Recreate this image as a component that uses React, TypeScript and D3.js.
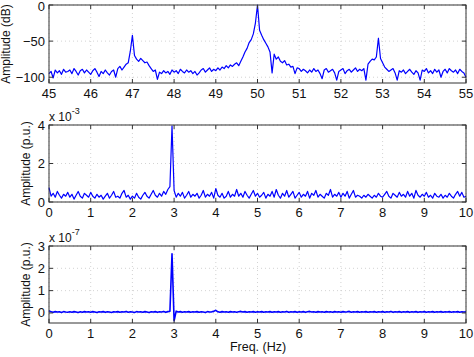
import React from "react";
import * as d3 from "d3";

// Panel 1: spectrum around 50 Hz, 45..55 Hz step 0.05 (dB)
const p1Start = 45;
const p1Step = 0.05;
const p1Values = [
  -95,-92,-101,-90,-94,-91,-96,-89,-93,-92,
  -90,-95,-88,-92,-97,-91,-89,-94,-90,-93,
  -96,-91,-88,-93,-99,-92,-95,-90,-94,-97,
  -92,-90,-100,-88,-85,-90,-86,-82,-80,-64,
  -42,-70,-75,-78,-74,-77,-80,-79,-84,-88,
  -92,-90,-103,-93,-95,-91,-94,-92,-96,-90,
  -93,-91,-95,-89,-92,-94,-90,-93,-91,-95,
  -92,-97,-94,-90,-88,-93,-90,-87,-92,-89,
  -91,-87,-90,-86,-88,-84,-87,-83,-85,-82,
  -80,-84,-78,-72,-65,-60,-52,-48,-40,-25,
  0,-35,-42,-48,-53,-58,-65,-94,-68,-75,
  -72,-78,-80,-77,-83,-82,-86,-85,-95,-87,
  -88,-92,-89,-91,-94,-90,-93,-88,-92,-90,
  -95,-102,-90,-88,-93,-91,-89,-94,-104,-92,
  -90,-88,-95,-91,-89,-93,-90,-87,-92,-89,
  -91,-88,-104,-82,-78,-75,-76,-72,-46,-74,
  -80,-86,-89,-92,-90,-88,-94,-104,-91,-93,
  -90,-95,-92,-89,-93,-96,-91,-94,-104,-90,
  -92,-88,-94,-91,-95,-89,-93,-90,-100,-92,
  -89,-94,-88,-91,-93,-90,-95,-89,-92,-94,
  -100,
];
const p1XTicks = [45, 46, 47, 48, 49, 50, 51, 52, 53, 54, 55];
const p1YTicks = [-100, -50, 0];

// Panel 2: 0..10 Hz step 0.05, values x 1e-3
const p2Start = 0;
const p2Step = 0.05;
const p2Values = [
  0.75,0.30,0.45,0.25,0.55,0.35,0.20,0.40,0.30,0.50,
  0.25,0.40,0.15,0.35,0.55,0.30,0.20,0.45,0.35,0.25,
  0.50,0.30,0.20,0.40,0.25,0.35,0.15,0.30,0.45,0.20,
  0.35,0.55,0.25,0.30,0.20,0.45,0.60,0.25,0.35,0.15,
  0.30,0.20,0.45,0.25,0.15,0.35,0.50,0.30,0.20,0.40,
  0.60,0.35,0.25,0.45,0.30,0.55,0.40,0.65,0.80,3.95,
  0.60,0.25,0.45,0.30,0.50,0.20,0.35,0.55,0.25,0.40,
  0.30,0.45,0.20,0.35,0.60,0.25,0.40,0.30,0.50,0.20,
  0.70,0.35,0.25,0.45,0.20,0.30,0.55,0.25,0.40,0.30,
  0.65,0.30,0.45,0.25,0.55,0.35,0.20,0.40,0.60,0.30,
  0.45,0.25,0.35,0.50,0.20,0.40,0.30,0.55,0.25,0.65,
  0.35,0.20,0.45,0.30,0.60,0.25,0.40,0.55,0.20,0.35,
  0.50,0.25,0.40,0.30,0.55,0.20,0.45,0.35,0.60,0.25,
  0.40,0.30,0.20,0.45,0.35,0.65,0.25,0.40,0.30,0.50,
  0.25,0.45,0.30,0.55,0.20,0.40,0.60,0.25,0.35,0.30,
  0.20,0.35,0.25,0.40,0.30,0.20,0.35,0.25,0.45,0.30,
  0.25,0.40,0.55,0.30,0.20,0.45,0.35,0.25,0.50,0.30,
  0.40,0.25,0.55,0.30,0.45,0.20,0.60,0.35,0.25,0.40,
  0.30,0.50,0.25,0.35,0.20,0.45,0.30,0.25,0.40,0.20,
  0.35,0.25,0.45,0.30,0.20,0.40,0.55,0.30,0.50,0.25,
  0.30,
];
const p2YTicks = [0, 2, 4];

// Panel 3: 0..10 Hz step 0.05, values x 1e-7
const p3Start = 0;
const p3Step = 0.05;
const p3Values = [
  0.10,0.05,0.03,0.06,0.04,0.05,0.02,0.06,0.04,0.03,
  0.05,0.03,0.06,0.04,0.02,0.05,0.03,0.06,0.04,0.05,
  0.03,0.06,0.04,0.02,0.05,0.04,0.06,0.03,0.05,0.04,
  0.02,0.05,0.04,0.06,0.03,0.05,0.04,0.07,0.03,0.05,
  0.04,0.02,0.06,0.04,0.05,0.03,0.06,0.04,0.02,0.05,
  0.04,0.06,0.03,0.05,0.04,0.07,0.03,0.06,0.08,2.65,
  -0.35,0.08,0.04,0.06,0.03,0.05,0.04,0.06,0.03,0.05,
  0.04,0.06,0.03,0.05,0.04,0.02,0.06,0.04,0.05,0.07,
  0.12,0.05,0.03,0.06,0.04,0.05,0.03,0.06,0.04,0.05,
  0.03,0.05,0.07,0.04,0.06,0.03,0.05,0.04,0.06,0.03,
  0.05,0.04,0.06,0.03,0.05,0.04,0.06,0.03,0.05,0.04,
  0.06,0.03,0.05,0.04,0.07,0.03,0.05,0.04,0.06,0.03,
  0.05,0.04,0.06,0.03,0.05,0.07,0.04,0.05,0.03,0.06,
  0.04,0.05,0.03,0.06,0.04,0.05,0.03,0.06,0.04,0.05,
  0.03,0.06,0.04,0.05,0.07,0.03,0.05,0.04,0.06,0.03,
  0.05,0.04,0.06,0.03,0.05,0.04,0.06,0.03,0.05,0.04,
  0.06,0.03,0.05,0.04,0.07,0.03,0.05,0.04,0.06,0.03,
  0.05,0.04,0.06,0.03,0.05,0.04,0.06,0.03,0.05,0.04,
  0.06,0.03,0.05,0.04,0.06,0.03,0.05,0.04,0.06,0.03,
  0.05,0.04,0.06,0.03,0.05,0.04,0.06,0.03,0.05,0.04,
  0.05,
];
const p3YTicks = [0, 1, 2, 3];
const lowXTicks = [0, 1, 2, 3, 4, 5, 6, 7, 8, 9, 10];

const FONT = "'Liberation Sans', Arial, sans-serif";
const TXT = "#111";

type PanelProps = {
  top: number;
  bottom: number;
  xDomain: [number, number];
  yDomain: [number, number];
  xTicks: number[];
  yTicks: number[];
  start: number;
  step: number;
  values: number[];
  ylabel: string;
  ylabelX: number;
  exponent?: string;
  strokeWidth: number;
};

const LEFT = 49;
const RIGHT = 466;

function Panel(p: PanelProps) {
  const x = d3.scaleLinear().domain(p.xDomain).range([LEFT, RIGHT]);
  const y = d3.scaleLinear().domain(p.yDomain).range([p.bottom, p.top]);
  const line = d3
    .line<number>()
    .x((_, i) => x(p.start + i * p.step))
    .y((d) => y(d));
  const tl = 4;
  const axisColor = "#333";
  const cy = (p.top + p.bottom) / 2;
  return (
    <g>
      {p.xTicks.map((t) => (
        <line key={"gx" + t} x1={x(t)} x2={x(t)} y1={p.top} y2={p.bottom}
          stroke="#c8c8c8" strokeWidth={0.8} strokeDasharray="1,3" />
      ))}
      {p.yTicks.map((t) => (
        <line key={"gy" + t} x1={LEFT} x2={RIGHT} y1={y(t)} y2={y(t)}
          stroke="#c8c8c8" strokeWidth={0.8} strokeDasharray="1,3" />
      ))}
      <path d={line(p.values) || ""} fill="none" stroke="#0000ff"
        strokeWidth={p.strokeWidth} strokeLinejoin="round" />
      <rect x={LEFT} y={p.top} width={RIGHT - LEFT} height={p.bottom - p.top}
        fill="none" stroke={axisColor} strokeWidth={1} />
      {p.xTicks.map((t) => (
        <g key={"tx" + t}>
          <line x1={x(t)} x2={x(t)} y1={p.bottom} y2={p.bottom - tl} stroke={axisColor} />
          <line x1={x(t)} x2={x(t)} y1={p.top} y2={p.top + tl} stroke={axisColor} />
          <text x={x(t)} y={p.bottom + 15} textAnchor="middle" fontSize={13}
            fontFamily={FONT} fill={TXT}>{t}</text>
        </g>
      ))}
      {p.yTicks.map((t) => (
        <g key={"ty" + t}>
          <line x1={LEFT} x2={LEFT + tl} y1={y(t)} y2={y(t)} stroke={axisColor} />
          <line x1={RIGHT} x2={RIGHT - tl} y1={y(t)} y2={y(t)} stroke={axisColor} />
          <text x={LEFT - 4} y={Math.max(y(t) + 4.5, 11)} textAnchor="end" fontSize={13}
            fontFamily={FONT} fill={TXT}>{t < 0 ? "\u2212" + Math.abs(t) : t}</text>
        </g>
      ))}
      <text transform={`translate(${p.ylabelX},${cy}) rotate(-90)`} textAnchor="middle"
        fontSize={12} fontFamily={FONT} fill={TXT}>{p.ylabel}</text>
      {p.exponent && (
        <text x={LEFT} y={p.top - 4} fontSize={12} fontFamily={FONT} fill={TXT}>
          x 10
          <tspan dy={-7} fontSize={9}>{p.exponent}</tspan>
        </text>
      )}
    </g>
  );
}

export default function App() {
  return (
    <svg width={474} height={357} style={{ display: "block", position: "absolute", left: 0, top: 0, background: "#fff" }}>
      <rect width={474} height={357} fill="#fff" />
      <Panel top={5} bottom={83} xDomain={[45, 55]} yDomain={[-108, 0]}
        xTicks={p1XTicks} yTicks={p1YTicks} start={p1Start} step={p1Step}
        values={p1Values} ylabel="Amplitude (dB)" ylabelX={10} strokeWidth={1.2} />
      <Panel top={125} bottom={202} xDomain={[0, 10]} yDomain={[0, 4]}
        xTicks={lowXTicks} yTicks={p2YTicks} start={p2Start} step={p2Step}
        values={p2Values} ylabel="Amplitude (p.u.)" ylabelX={30} exponent="-3" strokeWidth={1.2} />
      <Panel top={246} bottom={323} xDomain={[0, 10]} yDomain={[-0.45, 3]}
        xTicks={lowXTicks} yTicks={p3YTicks} start={p3Start} step={p3Step}
        values={p3Values} ylabel="Amplitude (p.u.)" ylabelX={30} exponent="-7" strokeWidth={1.6} />
      <text x={258} y={351} textAnchor="middle" fontSize={12.5} fontFamily={FONT} fill={TXT}>Freq. (Hz)</text>
    </svg>
  );
}
